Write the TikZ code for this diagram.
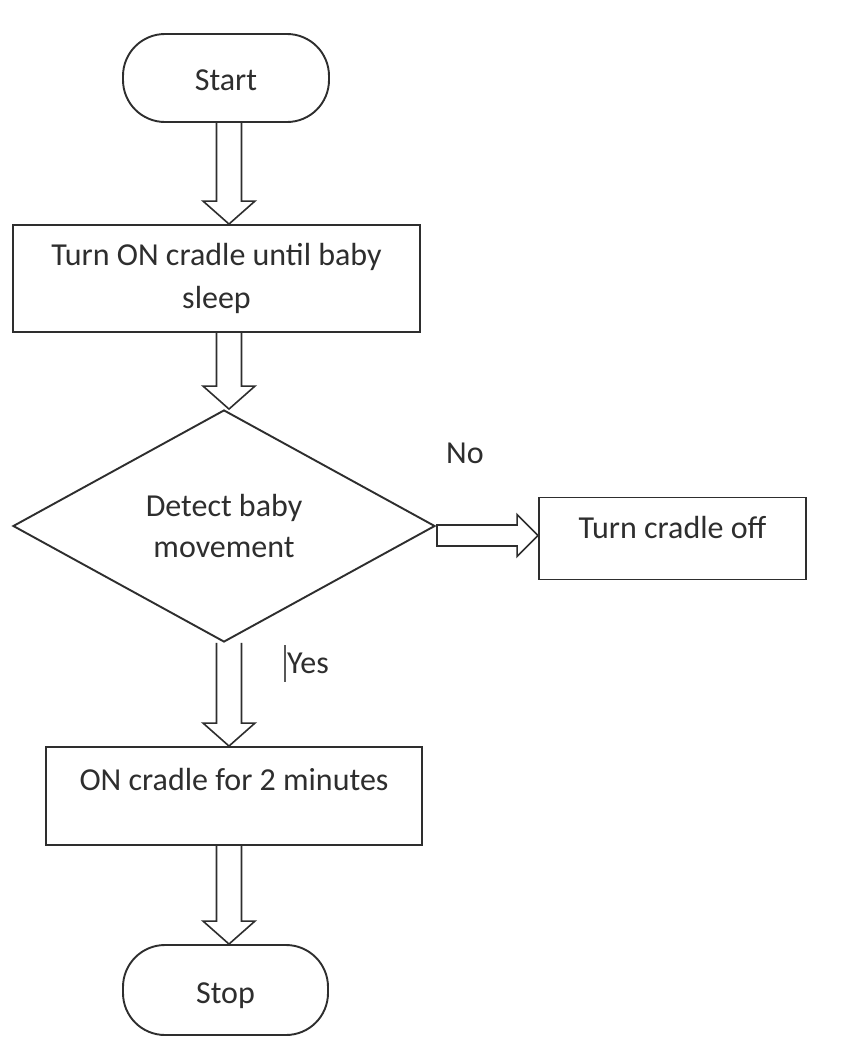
\documentclass[tikz,border=0pt]{standalone}
\usepackage{fontspec}
\setmainfont{Carlito}
\usetikzlibrary{shapes.geometric,calc}
\definecolor{ink}{HTML}{2E2E2E}
\begin{document}
\begin{tikzpicture}[x=1pt,y=-1pt,
  base/.style={draw=ink, line width=1.9pt, text=ink, font=\fontsize{32}{42}\selectfont, inner sep=0pt, align=center},
  term/.style={base, rectangle, rounded corners=42pt},
  proc/.style={base, rectangle},
  dec/.style={base, diamond, shape aspect=1.82, font=\fontsize{32}{41}\selectfont},
  lbl/.style={text=ink, font=\fontsize{32}{42}\selectfont, inner sep=0pt, text depth=0pt},
  blk/.style={draw=ink, line width=1.6pt, line join=miter}]
\useasboundingbox (0,0) rectangle (842,1039);
\fill[white] (0,0) rectangle (842,1039);
\coordinate (axis) at (229,0);

\node[term, minimum width=206, minimum height=88, text height=24pt, text depth=0pt] (start) at (226,78) {Start};
\node[proc, minimum width=407, minimum height=107] (turnon) at (216.5,278.5) {Turn ON cradle until baby\\[1pt]sleep};
\node[dec, minimum width=422, minimum height=232] (detect) at (224,526) {Detect baby\\movement};
\node[proc, minimum width=267, minimum height=82, text height=22pt, text depth=23pt] (off) at (672.5,538.5) {Turn cradle off};
\node[proc, minimum width=376, minimum height=98, text height=22pt, text depth=34pt] (oncr) at (234,796) {ON cradle for 2 minutes};
\node[term, minimum width=205, minimum height=90, text height=26pt, text depth=0pt] (stop) at (225.5,990) {Stop};

\node[lbl] (no) at (465,453) {No};
\node[lbl] (yes) at (308,663) {Yes};
\draw[line width=2.6pt, ink!80] (285,645) -- (285,682);

\newcommand\vblockarrow[2]{%
  \draw[blk] ($(axis |- #1.south)+(-12.5,0)$) -- ($(axis |- #2.north)+(-12.5,-23)$)
    -- ($(axis |- #2.north)+(-26,-23)$) -- (axis |- #2.north)
    -- ($(axis |- #2.north)+(26,-23)$) -- ($(axis |- #2.north)+(12.5,-23)$)
    -- ($(axis |- #1.south)+(12.5,0)$);}
\vblockarrow{start}{turnon}
\vblockarrow{turnon}{detect}
\vblockarrow{detect}{oncr}
\vblockarrow{oncr}{stop}

\coordinate (notip) at ($(off.west)+(0,-3)$);
\draw[blk] ($(detect.east |- notip)+(1,-10.5)$) -- ($(notip)+(-21,-10.5)$)
  -- ($(notip)+(-21,-21)$) -- (notip) -- ($(notip)+(-21,21)$)
  -- ($(notip)+(-21,10.5)$) -- ($(detect.east |- notip)+(1,10.5)$) -- cycle;
\end{tikzpicture}
\end{document}
